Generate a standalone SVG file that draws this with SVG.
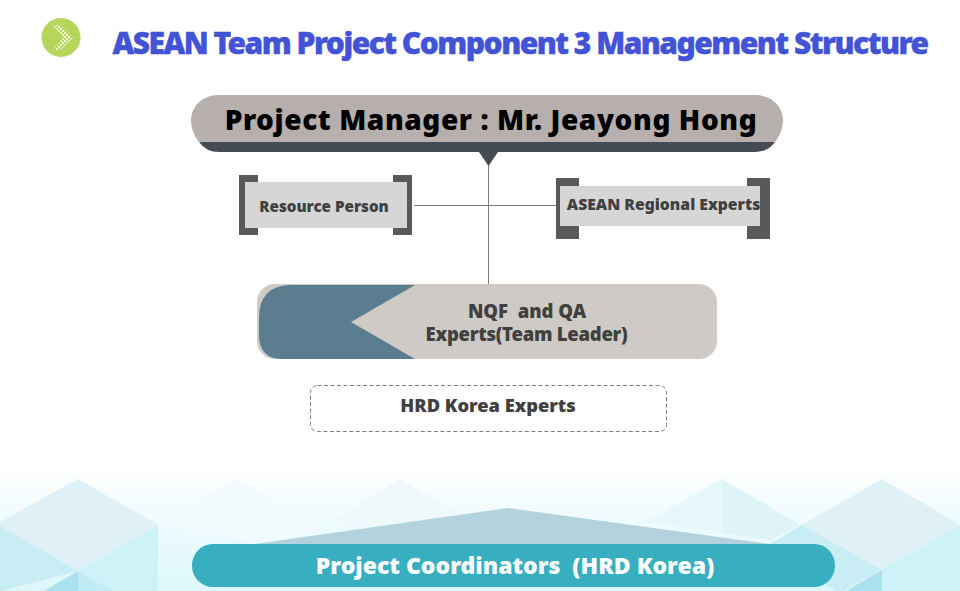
<svg xmlns="http://www.w3.org/2000/svg" width="960" height="591" viewBox="0 0 960 591">
<style>
text{font-family:"Noto Sans","Open Sans","Liberation Sans",sans-serif;font-weight:900;text-anchor:middle}
.dark{fill:#404040}
.br{fill:#58595b}
.box{fill:#d6d6d6}
</style>
<defs>
<linearGradient id="fade" x1="0" y1="0" x2="0" y2="1"><stop offset="0" stop-color="#e9f9fc" stop-opacity="0"/><stop offset=".45" stop-color="#eefbfd"/><stop offset="1" stop-color="#dcf7fb"/></linearGradient>
<pattern id="check" width="4" height="4" patternUnits="userSpaceOnUse"><rect width="2" height="2" fill="#f4f6d8"/><rect x="2" y="2" width="2" height="2" fill="#f4f6d8"/></pattern>
</defs>
<rect width="960" height="591" fill="#fff"/>
<g id="background">
<rect x="0" y="470" width="960" height="121" fill="url(#fade)"/>
<polygon points="78,479 158,525 78,571 0,526 0,522" fill="#dff0f6"/>
<polygon points="0,526 78,571 0,591" fill="#c9edf4"/>
<polygon points="78,571 158,525 158,591 78,591" fill="#cdf2f8"/>
<polygon points="78,571 44,591 78,591" fill="#abe0ef"/>
<polygon points="78,571 112,591 78,591" fill="#c0ecf6"/>
<polygon points="238,479 325,530 260,544 160,524" fill="#f1fafc"/>
<polygon points="400,479 465,518 400,530 330,522" fill="#eff9fb"/>
<polygon points="722,479 800,525 770,540 645,522" fill="#e8f7fa"/>
<polygon points="722,479 800,525 770,540 722,533" fill="#dff4f8"/>
<polygon points="882,479 960,525 882,570 802,525" fill="#dff0f6"/>
<polygon points="802,525 882,570 842,591 835,591 770,544" fill="#c9edf4"/>
<polygon points="882,570 960,525 960,591 882,591" fill="#cdf2f8"/>
<polygon points="882,570 846,591 882,591" fill="#abe0ef"/>
<polygon points="255,544 508,508 770,544" fill="#b3d2dd"/>
</g>
<g id="logo">
<circle cx="61" cy="37.500" r="19.500" fill="#b5d65a"/>
<polygon points="53,25 60,25 73,37.500 60,50 53,50 64,37.500" fill="url(#check)"/>
</g>
<text id="title" x="520" y="54" font-size="30" fill="#4353d6" stroke="#4353d6" stroke-width=".4" letter-spacing="-1.53">ASEAN Team Project Component 3 Management Structure</text>
<g id="connectors" fill="none" stroke="#7f7f7f" stroke-width="1">
<line x1="488.500" y1="160" x2="488.500" y2="288"/>
<line x1="414" y1="205.500" x2="560" y2="205.500"/>
</g>
<g id="manager">
<path d="M199,142H775Q768,152 755,152H219Q206,152 199,142Z" fill="#454b54"/>
<path d="M219,95H755C773,95 783,108 783,120C783,129 779,137 775,142H199C195,137 191,129 191,120C191,108 201,95 219,95Z" fill="#b7afad"/>
<polygon points="479,152 498,152 488.500,166" fill="#454b54"/>
<text x="491" y="130" font-size="28" fill="#000" letter-spacing=".6">Project Manager : Mr. Jeayong Hong</text>
</g>
<g id="resource-person">
<rect class="br" x="239" y="175" width="19" height="60"/>
<rect class="br" x="393" y="175" width="19" height="60"/>
<rect class="box" x="245" y="182" width="162" height="46"/>
<text class="dark" x="324" y="212" font-size="15.200">Resource Person</text>
</g>
<g id="asean-experts">
<rect class="br" x="556" y="178" width="23" height="61"/>
<rect class="br" x="747" y="178" width="23" height="61"/>
<rect class="box" x="560" y="186" width="200" height="40"/>
<text class="dark" x="663.500" y="210" font-size="15.700">ASEAN Regional Experts</text>
</g>
<g id="nqf-qa">
<rect x="257" y="284" width="460" height="75" rx="18" fill="#cfcac5"/>
<path d="M415,285H292Q259,285 259,318V335Q259,359 283,359H415L351,322Z" fill="#5a7e8f"/>
<text class="dark" x="527" y="318" font-size="18.500" xml:space="preserve">NQF  and QA</text>
<text class="dark" x="526.500" y="341" font-size="18.500" letter-spacing="-.25">Experts(Team Leader)</text>
</g>
<g id="hrd-experts">
<rect x="310.500" y="385.500" width="356" height="46" rx="7" fill="none" stroke="#7f7f7f" stroke-dasharray="4 2.500"/>
<text class="dark" x="488" y="412" font-size="18.300">HRD Korea Experts</text>
</g>
<g id="coordinators">
<rect x="192" y="544" width="643" height="43" rx="21" fill="#38afc0"/>
<text x="515" y="574" font-size="23" fill="#fff" xml:space="preserve">Project Coordinators  (HRD Korea)</text>
</g>
</svg>
